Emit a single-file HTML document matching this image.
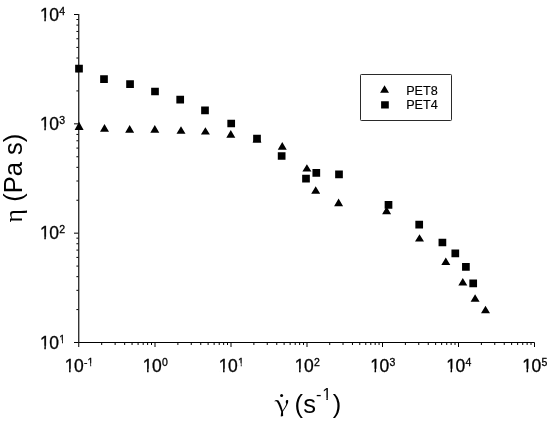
<!DOCTYPE html>
<html><head><meta charset="utf-8"><style>
html,body{margin:0;padding:0;background:#fff;}
svg{display:block;font-family:"Liberation Sans",Arial,sans-serif;}
text{fill:#000;}
.tl{stroke:#000;stroke-width:0.3px;}
.lg{stroke:#000;stroke-width:0.15px;}
</style></head><body>
<svg width="550" height="422" viewBox="0 0 550 422">
<path d="M78.5,342.5H534.5M74.0,342.50H78.5M76.4,309.59H78.5M76.4,290.33H78.5M76.4,276.67H78.5M76.4,266.08H78.5M76.4,257.42H78.5M76.4,250.10H78.5M76.4,243.76H78.5M76.4,238.17H78.5M74.0,233.17H78.5M76.4,200.25H78.5M76.4,181.00H78.5M76.4,167.34H78.5M76.4,156.75H78.5M76.4,148.09H78.5M76.4,140.77H78.5M76.4,134.43H78.5M76.4,128.84H78.5M74.0,123.83H78.5M76.4,90.92H78.5M76.4,71.67H78.5M76.4,58.01H78.5M76.4,47.41H78.5M76.4,38.76H78.5M76.4,31.44H78.5M76.4,25.10H78.5M76.4,19.50H78.5M74.0,14.50H78.5M78.75,342.5V347.0M101.70,342.5V345.0M115.13,342.5V345.0M124.66,342.5V345.0M132.05,342.5V345.0M138.08,342.5V345.0M143.19,342.5V345.0M147.61,342.5V345.0M151.51,342.5V345.0M155.00,342.5V347.0M177.88,342.5V345.0M191.26,342.5V345.0M200.76,342.5V345.0M208.12,342.5V345.0M214.14,342.5V345.0M219.23,342.5V345.0M223.63,342.5V345.0M227.52,342.5V345.0M231.00,342.5V347.0M253.88,342.5V345.0M267.26,342.5V345.0M276.76,342.5V345.0M284.12,342.5V345.0M290.14,342.5V345.0M295.23,342.5V345.0M299.63,342.5V345.0M303.52,342.5V345.0M307.00,342.5V347.0M329.73,342.5V345.0M343.02,342.5V345.0M352.46,342.5V345.0M359.77,342.5V345.0M365.75,342.5V345.0M370.80,342.5V345.0M375.18,342.5V345.0M379.05,342.5V345.0M382.50,342.5V347.0M405.38,342.5V345.0M418.76,342.5V345.0M428.26,342.5V345.0M435.62,342.5V345.0M441.64,342.5V345.0M446.73,342.5V345.0M451.13,342.5V345.0M455.02,342.5V345.0M458.50,342.5V347.0M481.38,342.5V345.0M494.76,342.5V345.0M504.26,342.5V345.0M511.62,342.5V345.0M517.64,342.5V345.0M522.73,342.5V345.0M527.13,342.5V345.0M531.02,342.5V345.0M534.50,342.5V347.0" stroke="#000" stroke-width="1.0" fill="none"/>
<path d="M78.75,14.000100000000032V343.0" stroke="#111" stroke-width="1.2" fill="none"/>
<path d="M79.10,121.75L83.60,129.90L74.60,129.90ZM104.50,123.90L109.00,131.80L100.00,131.80ZM129.65,125.00L134.15,132.80L125.15,132.80ZM154.80,125.00L159.30,132.80L150.30,132.80ZM181.00,126.20L185.50,133.80L176.50,133.80ZM205.40,127.20L209.90,134.60L200.90,134.60ZM230.80,130.00L235.30,137.70L226.30,137.70ZM257.00,135.00L261.50,142.60L252.50,142.60ZM282.25,142.00L286.75,149.80L277.75,149.80ZM306.90,164.20L311.40,171.60L302.40,171.60ZM315.70,186.30L320.20,193.70L311.20,193.70ZM338.60,198.40L343.10,206.20L334.10,206.20ZM386.60,206.50L391.10,214.30L382.10,214.30ZM419.50,234.20L424.00,241.60L415.00,241.60ZM445.80,257.50L450.30,265.00L441.30,265.00ZM462.80,278.10L467.30,285.40L458.30,285.40ZM475.10,294.30L479.60,301.80L470.60,301.80ZM485.50,305.80L490.00,313.20L481.00,313.20Z" fill="#000"/>
<path d="M75.15,64.85h7.7v7.7h-7.7ZM100.15,75.25h7.7v7.7h-7.7ZM126.20,80.35h7.7v7.7h-7.7ZM151.15,87.65h7.7v7.7h-7.7ZM176.35,95.85h7.7v7.7h-7.7ZM201.15,106.45h7.7v7.7h-7.7ZM227.35,119.65h7.7v7.7h-7.7ZM253.15,134.85h7.7v7.7h-7.7ZM277.80,152.15h7.7v7.7h-7.7ZM302.15,174.75h7.7v7.7h-7.7ZM312.45,168.95h7.7v7.7h-7.7ZM335.15,170.55h7.7v7.7h-7.7ZM384.65,200.95h7.7v7.7h-7.7ZM415.35,220.85h7.7v7.7h-7.7ZM438.55,238.65h7.7v7.7h-7.7ZM451.45,249.45h7.7v7.7h-7.7ZM462.05,262.95h7.7v7.7h-7.7ZM469.35,279.45h7.7v7.7h-7.7Z" fill="#000"/>
<rect x="360.5" y="74.5" width="91" height="46" rx="0.8" fill="none" stroke="#2a2a2a" stroke-width="1"/>
<path d="M384.55,85.3L389,92.7L380.1,92.7Z M381.1,101.2h7.7v7.4h-7.7Z" fill="#000"/>
<text class="lg" x="406.2" y="94.6" font-size="12.2" textLength="31.6" lengthAdjust="spacingAndGlyphs">PET8</text>
<text class="lg" x="406.2" y="108.7" font-size="12.2" textLength="31.6" lengthAdjust="spacingAndGlyphs">PET4</text>
<text class="tl" x="64.65" y="371.50" font-size="17.5">1<tspan dx="-0.5">0</tspan><tspan font-size="10.5" dy="-5.8" dx="0.5">-1</tspan></text>
<text class="tl" x="142.65" y="371.50" font-size="17.5">1<tspan dx="-0.5">0</tspan><tspan font-size="10.5" dy="-5.8" dx="0.5">0</tspan></text>
<text class="tl" x="218.65" y="371.50" font-size="17.5">1<tspan dx="-0.5">0</tspan><tspan font-size="10.5" dy="-5.8" dx="0.5">1</tspan></text>
<text class="tl" x="294.65" y="371.50" font-size="17.5">1<tspan dx="-0.5">0</tspan><tspan font-size="10.5" dy="-5.8" dx="0.5">2</tspan></text>
<text class="tl" x="370.15" y="371.50" font-size="17.5">1<tspan dx="-0.5">0</tspan><tspan font-size="10.5" dy="-5.8" dx="0.5">3</tspan></text>
<text class="tl" x="446.15" y="371.50" font-size="17.5">1<tspan dx="-0.5">0</tspan><tspan font-size="10.5" dy="-5.8" dx="0.5">4</tspan></text>
<text class="tl" x="522.15" y="371.50" font-size="17.5">1<tspan dx="-0.5">0</tspan><tspan font-size="10.5" dy="-5.8" dx="0.5">5</tspan></text>
<text class="tl" x="39.90" y="348.50" font-size="17.5">1<tspan dx="-0.5">0</tspan><tspan font-size="10.5" dy="-5.8" dx="0.5">1</tspan></text>
<text class="tl" x="39.90" y="239.17" font-size="17.5">1<tspan dx="-0.5">0</tspan><tspan font-size="10.5" dy="-5.8" dx="0.5">2</tspan></text>
<text class="tl" x="39.90" y="129.83" font-size="17.5">1<tspan dx="-0.5">0</tspan><tspan font-size="10.5" dy="-5.8" dx="0.5">3</tspan></text>
<text class="tl" x="39.90" y="20.50" font-size="17.5">1<tspan dx="-0.5">0</tspan><tspan font-size="10.5" dy="-5.8" dx="0.5">4</tspan></text>
<text transform="translate(22.2,222.6) rotate(-90)" font-size="25.5" font-family="Liberation Serif">&#951;</text>
<text transform="translate(22,201.73) rotate(-90)" font-size="25.5">(Pa s)</text>
<text transform="translate(274.6,412.3) scale(1.25,1)" font-size="22.5" font-family="Noto Serif CJK SC">&#947;</text>
<circle cx="281.6" cy="395.5" r="1.5" fill="#000"/>
<text x="294.6" y="413" font-size="25.5">(</text>
<text x="303.3" y="413" font-size="25.5">s</text>
<text x="316.1" y="400.3" font-size="16.5">-</text>
<text x="322.2" y="400.3" font-size="16.5">1</text>
<text x="332.7" y="413" font-size="25.5">)</text>
<path d="M65.18,368.69H69.05V373.30H65.18ZM70.60,368.69H74.33V373.30H70.60ZM87.61,363.22H90.25V367.30H87.61ZM91.18,363.22H93.74V367.30H91.18ZM143.18,368.69H147.05V373.30H143.18ZM148.59,368.69H152.33V373.30H148.59ZM219.18,368.69H223.05V373.30H219.18ZM224.59,368.69H228.33V373.30H224.59ZM238.11,363.22H240.75V367.30H238.11ZM241.68,363.22H244.24V367.30H241.68ZM295.18,368.69H299.05V373.30H295.18ZM300.59,368.69H304.33V373.30H300.59ZM370.68,368.69H374.55V373.30H370.68ZM376.09,368.69H379.83V373.30H376.09ZM446.68,368.69H450.55V373.30H446.68ZM452.09,368.69H455.83V373.30H452.09ZM522.68,368.69H526.55V373.30H522.68ZM528.09,368.69H531.83V373.30H528.09ZM40.43,345.69H44.30V350.30H40.43ZM45.84,345.69H49.57V350.30H45.84ZM59.36,340.22H62.00V344.30H59.36ZM62.93,340.22H65.49V344.30H62.93ZM40.43,236.69H44.30V241.30H40.43ZM45.84,236.69H49.57V241.30H45.84ZM40.43,126.69H44.30V131.30H40.43ZM45.84,126.69H49.57V131.30H45.84ZM40.43,17.69H44.30V22.30H40.43ZM45.84,17.69H49.57V22.30H45.84ZM322.66,397.77H326.35V402.30H322.66ZM327.81,397.77H331.37V402.30H327.81Z" fill="#fff"/>
</svg>
</body></html>
